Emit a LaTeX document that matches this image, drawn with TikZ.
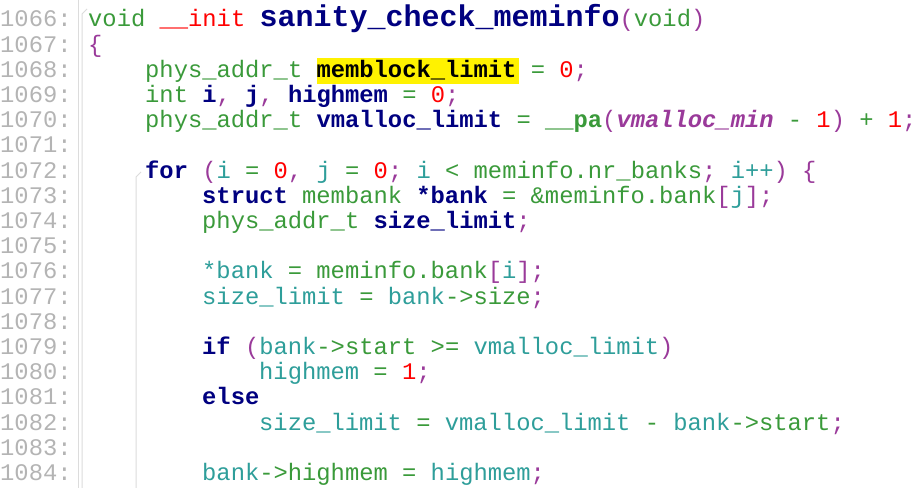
\documentclass[tikz,border=0pt]{standalone}
\usepackage{fontspec}
\setmonofont{Liberation Mono}
\newfontfamily\codefont{Liberation Mono}[Ligatures=NoCommon]
\definecolor{lnum}{HTML}{B4B4B4}
\definecolor{cgreen}{HTML}{3A9A3A}
\definecolor{cteal}{HTML}{2E9E9A}
\definecolor{cnavy}{HTML}{000080}
\definecolor{cred}{HTML}{FF0000}
\definecolor{cpurp}{HTML}{9A3A9A}
\definecolor{guide}{HTML}{DCDCDC}
\newcommand\cg[1]{{\color{cgreen}#1}}
\newcommand\ct[1]{{\color{cteal}#1}}
\newcommand\cn[1]{{\color{cnavy}\bfseries #1}}
\newcommand\crd[1]{{\color{cred}#1}}
\newcommand\cpu[1]{{\color{cpurp}#1}}
\begin{document}
\begin{tikzpicture}[x=1bp,y=1bp,
  code/.style={anchor=base west,inner sep=0,font=\codefont\fontsize{23.8bp}{25bp}\selectfont},
  lno/.style={code,text=lnum}]
\useasboundingbox (0,0) rectangle (922,488);
\fill[white] (0,0) rectangle (922,488);
% guides
\draw[guide,line width=1bp] (78,488) -- (78,0);
\draw[guide,line width=1bp] (82,0) -- (82,474) -- (87,479);
\draw[guide,line width=1bp] (136,0) -- (136,311) -- (141,316);
% highlight
\fill[yellow] (317,404) rectangle (519,430);
\foreach \n [count=\k from 0] in {1066,...,1084}{
  \node[lno] (ln\n) at (0,{461-25.2*\k}) {\n:};
}
\node[code] (l0) at (88,461) {\cg{void} \crd{\_\_init} {\color{cnavy}\bfseries\fontsize{30bp}{30bp}\selectfont sanity\_check\_meminfo}\cpu{(}\cg{void}\cpu{)}};
\node[code] (l1) at (88,{461-25.2*1}) {\cpu{\{}};
\node[code] (l2) at (145,{461-25.2*2}) {\cg{phys\_addr\_t} {\color{black}\bfseries memblock\_limit} \cg{=} \crd{0}\cpu{;}};
\node[code] (l3) at (145,{461-25.2*3}) {\cg{int} \cn{i}\cpu{,} \cn{j}\cpu{,} \cn{highmem} \cg{=} \crd{0}\cpu{;}};
\node[code] (l4) at (145,{461-25.2*4}) {\cg{phys\_addr\_t} \cn{vmalloc\_limit} \cg{=} {\color{cgreen}\bfseries\_\_pa}\cpu{(}{\color{cpurp}\bfseries\itshape vmalloc\_min} \cg{-} \crd{1}\cpu{)} \cg{+} \crd{1}\cpu{;}};
\node[code] (l6) at (145,{461-25.2*6}) {\cn{for} \cpu{(}\ct{i} \cg{=} \crd{0}\cpu{,} \ct{j} \cg{=} \crd{0}\cpu{;} \ct{i} \cg{<} \cg{meminfo.nr\_banks}\cpu{;} \ct{i++}\cpu{)} \cpu{\{}};
\node[code] (l7) at (202,{461-25.2*7}) {\cn{struct} \cg{membank} \cn{*bank} \cg{=} \cg{\&meminfo.bank}\cpu{[}\ct{j}\cpu{];}};
\node[code] (l8) at (202,{461-25.2*8}) {\cg{phys\_addr\_t} \cn{size\_limit}\cpu{;}};
\node[code] (l10) at (202,{461-25.2*10}) {\ct{*bank} \cg{=} \cg{meminfo.bank}\cpu{[}\ct{i}\cpu{];}};
\node[code] (l11) at (202,{461-25.2*11}) {\ct{size\_limit} \cg{=} \ct{bank}\cg{->size}\cpu{;}};
\node[code] (l13) at (202,{461-25.2*13}) {\cn{if} \cpu{(}\ct{bank}\cg{->start} \cg{>=} \ct{vmalloc\_limit}\cpu{)}};
\node[code] (l14) at (259,{461-25.2*14}) {\ct{highmem} \cg{=} \crd{1}\cpu{;}};
\node[code] (l15) at (202,{461-25.2*15}) {\cn{else}};
\node[code] (l16) at (259,{461-25.2*16}) {\ct{size\_limit} \cg{=} \ct{vmalloc\_limit} \cg{-} \ct{bank}\cg{->start}\cpu{;}};
\node[code] (l18) at (202,{461-25.2*18}) {\ct{bank}\cg{->highmem} \cg{=} \ct{highmem}\cpu{;}};
\end{tikzpicture}
\end{document}
